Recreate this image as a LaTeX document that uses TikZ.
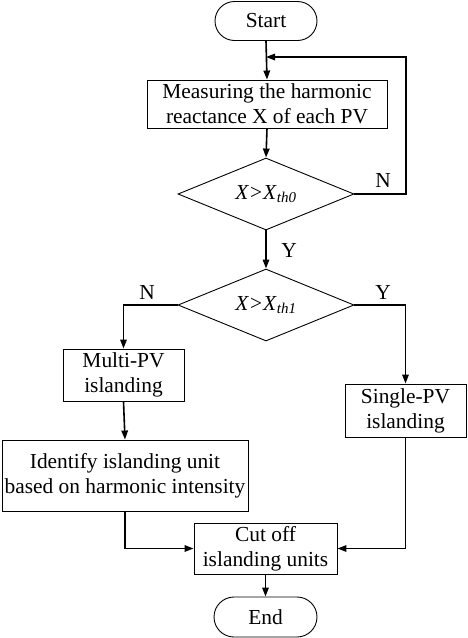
\documentclass[tikz,border=0pt]{standalone}
\usepackage{fontspec}
\setmainfont{Liberation Serif}
\usetikzlibrary{shapes.geometric,arrows.meta}
\begin{document}
\begin{tikzpicture}[x=1pt,y=-1pt,
  every node/.style={font=\fontsize{21.4}{25}\selectfont},
  procbox/.style={draw,line width=0.9pt,align=center,inner sep=0pt},
  termbox/.style={draw,line width=0.9pt,rounded corners=19.5pt,inner sep=0pt,minimum width=102pt,minimum height=39pt},
  decbox/.style={draw,line width=0.9pt,shape=diamond,aspect=2.4,inner sep=0pt,minimum width=176pt,minimum height=72pt},
  conn/.style={line width=1.6pt},
  arr/.style={conn,-{Triangle[length=9pt,width=6.5pt]}},
  lbl/.style={inner sep=0pt}]
\useasboundingbox (0,0) rectangle (467,638);
\node[termbox] (start) at (266,21) {Start};
\node[procbox,minimum width=240pt,minimum height=48pt] (meas) at (267,104) {Measuring the harmonic\\reactance X of each PV};
\node[decbox] (d1) at (266,194) {\textit{X}\kern1pt>\kern1pt\textit{X}\textsubscript{\textit{th0}}};
\node[decbox] (d2) at (266,305) {\textit{X}\kern1pt>\kern1pt\textit{X}\textsubscript{\textit{th1}}};
\node[procbox,minimum width=121pt,minimum height=52pt] (multi) at (123.5,375) {Multi-PV\\islanding};
\node[procbox,minimum width=246pt,minimum height=71pt] (ident) at (125,475.5) {Identify islanding unit\\based on harmonic intensity};
\node[procbox,minimum width=121pt,minimum height=53pt] (single) at (405.5,410.5) {Single-PV\\islanding};
\node[procbox,minimum width=143pt,minimum height=51pt] (cut) at (265.5,548.5) {Cut off\\islanding units};
\node[termbox,minimum width=103pt,minimum height=40pt,rounded corners=20pt] (end) at (265.5,617) {End};
\coordinate (lp) at (406,57);
\draw[arr] (start.south) -- (meas.north);
\draw[arr] (meas.south) -- (d1.north);
\draw[arr] (d1.east) -| (lp) -- (lp -| start.south);
\draw[arr] (d1.south) -- (d2.north);
\draw[arr] (d2.west) -| (multi.north);
\draw[arr] (d2.east) -| (single.north);
\draw[arr] (multi.south) -- (ident.north);
\draw[arr] (ident.south) |- (cut.west);
\draw[arr] (single.south) |- (cut.east);
\draw[arr] (cut.south) -- (end.north);
\node[lbl] (n1) at (383,180) {N};
\node[lbl] (y1) at (289,250) {Y};
\node[lbl] (n2) at (147,292) {N};
\node[lbl] (y2) at (383,292) {Y};
\end{tikzpicture}
\end{document}
